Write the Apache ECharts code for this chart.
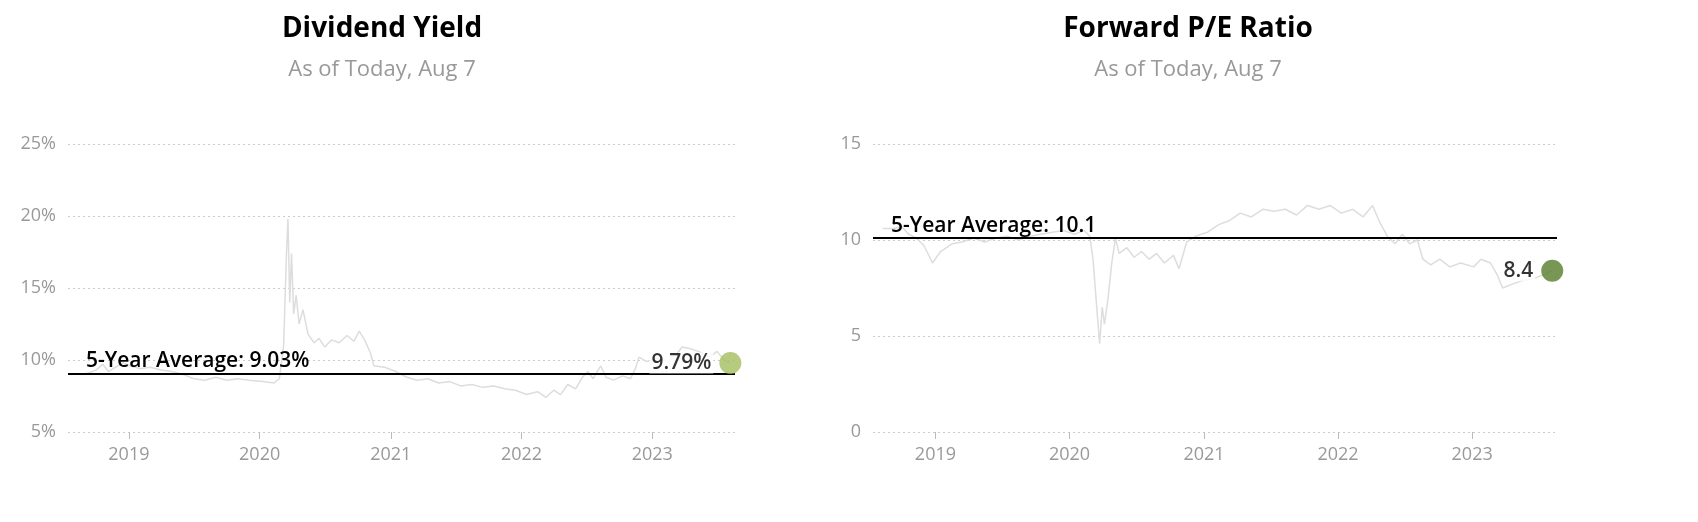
<!DOCTYPE html>
<html><head><meta charset="utf-8">
<script src="https://cdn.jsdelivr.net/npm/echarts@6/dist/echarts.min.js"></script>
<style>html,body{margin:0;padding:0;background:#fff}#c{width:1698px;height:522px}</style>
</head><body><div id="c"></div>
<script>
const divDates=['2018-08-20','2018-09-10','2018-10-01','2018-10-20','2018-11-05','2018-11-25','2018-12-15','2019-01-05','2019-02-01','2019-03-01','2019-04-01','2019-05-01','2019-06-01','2019-07-01','2019-08-01','2019-09-01','2019-10-01','2019-11-01','2019-12-01','2020-01-10','2020-02-10','2020-02-25','2020-03-08','2020-03-16','2020-03-20','2020-03-25','2020-03-30','2020-04-05','2020-04-12','2020-04-20','2020-05-01','2020-05-15','2020-06-01','2020-06-15','2020-07-01','2020-07-20','2020-08-10','2020-09-01','2020-09-20','2020-10-05','2020-10-20','2020-11-05','2020-11-15','2020-12-15','2021-01-15','2021-02-15','2021-03-15','2021-04-15','2021-05-15','2021-06-15','2021-07-15','2021-08-15','2021-09-15','2021-10-15','2021-11-15','2021-12-15','2022-01-15','2022-02-15','2022-03-10','2022-04-01','2022-04-20','2022-05-10','2022-06-01','2022-06-20','2022-07-05','2022-07-20','2022-08-10','2022-08-25','2022-09-15','2022-10-10','2022-11-01','2022-11-15','2022-11-25','2022-12-15','2023-01-15','2023-02-15','2023-03-10','2023-03-25','2023-04-15','2023-05-10','2023-06-10','2023-07-01','2023-07-20','2023-08-07'];
const divValues=[9.0,9.1,9.3,9.7,9.2,9.5,9.8,9.6,9.4,9.5,9.3,9.2,9.0,8.7,8.6,8.8,8.6,8.7,8.6,8.5,8.4,8.7,11,17.5,19.8,14.0,17.4,13.2,14.5,12.5,13.5,11.8,11.2,11.5,10.9,11.4,11.2,11.7,11.3,12.0,11.4,10.5,9.6,9.5,9.2,8.8,8.6,8.7,8.4,8.5,8.2,8.3,8.1,8.2,8.0,7.9,7.6,7.8,7.4,7.9,7.6,8.3,8.0,8.8,9.2,8.7,9.6,8.8,8.6,8.9,8.7,9.4,10.2,9.9,10.1,9.9,10.4,10.9,10.8,10.6,10.2,10.6,10.0,9.79];
const peDates=['2018-08-10','2018-09-10','2018-10-01','2018-10-20','2018-11-10','2018-12-01','2018-12-24','2019-01-15','2019-02-15','2019-03-15','2019-04-15','2019-05-15','2019-06-15','2019-07-15','2019-08-15','2019-09-15','2019-10-15','2019-11-15','2019-12-15','2020-01-15','2020-02-10','2020-02-25','2020-03-05','2020-03-15','2020-03-23','2020-03-30','2020-04-05','2020-04-15','2020-04-25','2020-05-05','2020-05-15','2020-06-05','2020-06-25','2020-07-15','2020-08-05','2020-08-25','2020-09-15','2020-10-10','2020-10-25','2020-11-15','2020-12-10','2021-01-10','2021-02-10','2021-03-10','2021-04-10','2021-05-10','2021-06-10','2021-07-10','2021-08-10','2021-09-10','2021-10-10','2021-11-10','2021-12-10','2022-01-10','2022-02-10','2022-03-10','2022-04-05','2022-04-25','2022-05-15','2022-06-05','2022-06-25','2022-07-15','2022-08-05','2022-08-20','2022-09-10','2022-10-05','2022-11-01','2022-12-01','2023-01-05','2023-01-25','2023-02-20','2023-03-10','2023-03-25','2023-04-20','2023-05-20','2023-06-20','2023-07-15','2023-08-07'];
const peValues=[10.6,10.6,10.7,10.3,10.1,9.7,8.8,9.4,9.8,9.9,10.1,9.9,10.1,10.2,10.0,10.2,10.3,10.4,10.5,10.3,10.5,10.2,9.0,6.5,4.6,6.5,5.6,7.0,8.8,10.1,9.3,9.6,9.1,9.4,9.0,9.3,8.8,9.2,8.5,9.9,10.2,10.4,10.8,11.0,11.4,11.2,11.6,11.5,11.6,11.3,11.8,11.6,11.8,11.4,11.6,11.2,11.8,10.9,10.2,9.8,10.3,9.8,10.0,9.0,8.7,9.0,8.6,8.8,8.6,9.0,8.8,8.2,7.5,7.7,7.9,8.0,8.2,8.4];
const yearTicks=['2019-01-01','2020-01-01','2021-01-01','2022-01-01','2023-01-01'];
const divAvg=9.03, peAvg=10.1;

const F='"Open Sans", sans-serif';
const T=d=>Date.parse(d);
const yt=yearTicks.map(T);
const pair=(ds,vs)=>ds.map((d,i)=>[T(d),vs[i]]);
function xAx(i){return {type:'value',gridIndex:i,min:T('2018-07-15'),max:T('2023-08-20'),
  axisLine:{show:false},axisTick:{show:true,customValues:yt,length:7,lineStyle:{color:'#bbb'}},
  axisLabel:{customValues:yt,formatter:v=>String(new Date(v).getUTCFullYear()),color:'#999',fontSize:18,fontFamily:F,margin:14},splitLine:{show:false}};}
function yAx(i,min,max,fmt){return {type:'value',gridIndex:i,min,max,interval:5,
  axisLine:{show:false},axisTick:{show:false},
  axisLabel:{color:'#999',fontSize:18,fontFamily:F,margin:12,formatter:fmt},
  splitLine:{lineStyle:{color:'#ccc',type:[2,3]}}};}
function lineS(i,data,avg,avgTxt,last,lastTxt,col){return [
 {type:'line',xAxisIndex:i,yAxisIndex:i,data,showSymbol:false,lineStyle:{color:'#ddd',width:1.5},
  markLine:{silent:true,symbol:'none',data:[{yAxis:avg}],lineStyle:{color:'#000',width:2,type:'solid'},
   label:{position:'insideStartTop',formatter:avgTxt,color:'#000',fontSize:21,fontFamily:F,fontWeight:600,distance:[18,2]}}},
 {type:'scatter',xAxisIndex:i,yAxisIndex:i,data:[last],symbolSize:22,itemStyle:{color:col},z:5,
  label:{show:true,position:'left',formatter:lastTxt,color:'#000',fontSize:21,fontFamily:F,fontWeight:600,backgroundColor:'#fff',padding:[0,2],distance:6}}];}
const c=echarts.init(document.getElementById('c'));
const ld=divDates.length-1, lp=peDates.length-1;
c.setOption({animation:false,
 title:[{text:'Dividend Yield',subtext:'As of Today, Aug 7',left:377,top:10,textAlign:'center',textStyle:{fontSize:28,fontWeight:'bold',color:'#000',fontFamily:F},subtextStyle:{fontSize:22,color:'#999',fontFamily:F},itemGap:16},
        {text:'Forward P/E Ratio',subtext:'As of Today, Aug 7',left:1183,top:10,textAlign:'center',textStyle:{fontSize:28,fontWeight:'bold',color:'#000',fontFamily:F},subtextStyle:{fontSize:22,color:'#999',fontFamily:F},itemGap:16}],
 grid:[{left:68,right:963,top:144,height:288},{left:873,right:141,top:144,height:288}],
 xAxis:[xAx(0),xAx(1)],
 yAxis:[yAx(0,5,25,v=>v+'%'),yAx(1,0,15,v=>String(v))],
 series:[...lineS(0,pair(divDates,divValues),divAvg,'5-Year Average: '+divAvg.toFixed(2)+'%',[T(divDates[ld]),divValues[ld]],divValues[ld].toFixed(2)+'%','#a4be5c'),
         ...lineS(1,pair(peDates,peValues),peAvg,'5-Year Average: '+peAvg,[T(peDates[lp]),peValues[lp]],String(peValues[lp]),'#567d2a')]
});
</script></body></html>
